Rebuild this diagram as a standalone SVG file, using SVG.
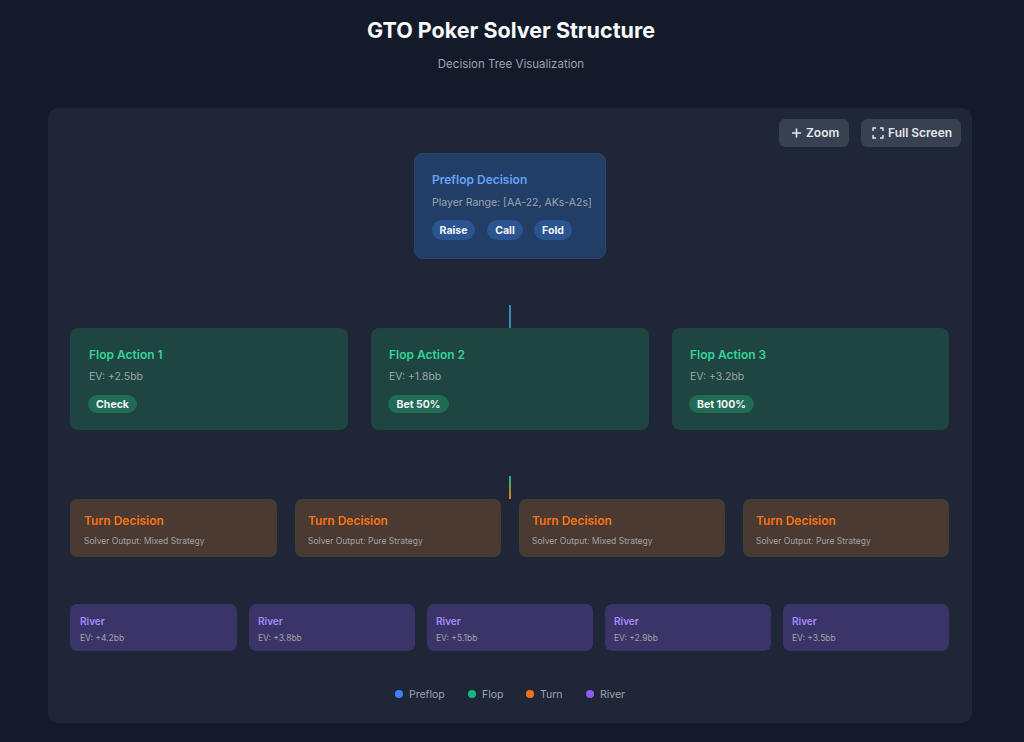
<svg xmlns="http://www.w3.org/2000/svg" width="1024" height="742" viewBox="0 0 1024 742">
<defs>
<linearGradient id="g2" x1="0" y1="0" x2="0" y2="1"><stop offset="0" stop-color="#10b981"/><stop offset="1" stop-color="#f97316"/></linearGradient>
<style>
text{font-family:Inter,"Liberation Sans",sans-serif}
.title{font-size:21.5px;font-weight:700;fill:#f9fafb}
.sub{font-size:11.5px;fill:#9ca3af}
.btn{fill:#374151}
.btnt{font-size:12px;font-weight:600;fill:#e5e7eb}
.pre{fill:#233e66;stroke:#2a4670;stroke-width:1}
.flop{fill:#1e4540}
.turn{fill:#4a3a31}
.river{fill:#3a3468}
.ht{font-size:12px;font-weight:600}
.hp{fill:#60a5fa}.hf{fill:#34d399}.ho{fill:#f97316}.hr{fill:#a78bfa}
.d{font-size:10.5px;fill:#9ca3af}
.ds{font-size:8.5px;fill:#a3a3a3}
.pb{fill:#2a5591}
.pg{fill:#1f6b56}
.pt{font-size:10.5px;font-weight:700;fill:#f3f4f6}
.lg{font-size:10.5px;fill:#9ca3af}
</style>
</defs>
<rect width="1024" height="742" fill="#131a29"/>
<text x="511" y="38" text-anchor="middle" class="title">GTO Poker Solver Structure</text>
<text x="511" y="68" text-anchor="middle" class="sub">Decision Tree Visualization</text>
<rect x="48" y="108" width="924" height="615" rx="10" fill="#1f2637"/>

<g id="btn-zoom"><rect x="779" y="119" width="70" height="28" rx="6" class="btn"/>
<path d="M792 133h9M796.5 128.5v9" stroke="#e5e7eb" stroke-width="1.6"/>
<text x="806" y="137" class="btnt">Zoom</text></g>
<g id="btn-full"><rect x="861" y="119" width="100" height="28" rx="6" class="btn"/>
<path d="M873 131v-3h3M880 128h3v3M883 135v3h-3M876 138h-3v-3" stroke="#e5e7eb" stroke-width="1.4" fill="none"/>
<text x="888" y="137" class="btnt">Full Screen</text></g>

<g id="connectors">
<line x1="510" y1="305" x2="510" y2="328" stroke="#3a8ab0" stroke-width="2"/>
<rect x="509" y="476" width="2" height="23" fill="url(#g2)"/>
</g>

<g id="preflop">
<rect x="414.5" y="153.5" width="191" height="105" rx="8" class="pre"/>
<text x="432" y="184" class="ht hp">Preflop Decision</text>
<text x="432" y="206" class="d">Player Range: [AA-22, AKs-A2s]</text>
<rect x="432" y="220" width="43" height="20" rx="10" class="pb"/><text x="453.5" y="234" text-anchor="middle" class="pt">Raise</text>
<rect x="487" y="220" width="36" height="20" rx="10" class="pb"/><text x="505" y="234" text-anchor="middle" class="pt">Call</text>
<rect x="534" y="220" width="38" height="20" rx="10" class="pb"/><text x="553" y="234" text-anchor="middle" class="pt">Fold</text>
</g>

<g id="flop1"><rect x="70" y="328" width="278" height="102" rx="8" class="flop"/>
<text x="89" y="359" class="ht hf">Flop Action 1</text><text x="89" y="380" class="d">EV: +2.5bb</text>
<rect x="88" y="395" width="49" height="18" rx="9" class="pg"/><text x="112.5" y="408" text-anchor="middle" class="pt">Check</text></g>
<g id="flop2"><rect x="371" y="328" width="278" height="102" rx="8" class="flop"/>
<text x="389" y="359" class="ht hf">Flop Action 2</text><text x="389" y="380" class="d">EV: +1.8bb</text>
<rect x="388" y="395" width="61" height="18" rx="9" class="pg"/><text x="418.5" y="408" text-anchor="middle" class="pt">Bet 50%</text></g>
<g id="flop3"><rect x="672" y="328" width="277" height="102" rx="8" class="flop"/>
<text x="690" y="359" class="ht hf">Flop Action 3</text><text x="690" y="380" class="d">EV: +3.2bb</text>
<rect x="689" y="395" width="65" height="18" rx="9" class="pg"/><text x="721.5" y="408" text-anchor="middle" class="pt">Bet 100%</text></g>

<g id="turn1"><rect x="70" y="499" width="207" height="58" rx="7" class="turn"/>
<text x="84" y="525" class="ht ho">Turn Decision</text><text x="84" y="544" class="ds">Solver Output: Mixed Strategy</text></g>
<g id="turn2"><rect x="295" y="499" width="206" height="58" rx="7" class="turn"/>
<text x="308" y="525" class="ht ho">Turn Decision</text><text x="308" y="544" class="ds">Solver Output: Pure Strategy</text></g>
<g id="turn3"><rect x="519" y="499" width="206" height="58" rx="7" class="turn"/>
<text x="532" y="525" class="ht ho">Turn Decision</text><text x="532" y="544" class="ds">Solver Output: Mixed Strategy</text></g>
<g id="turn4"><rect x="743" y="499" width="206" height="58" rx="7" class="turn"/>
<text x="756" y="525" class="ht ho">Turn Decision</text><text x="756" y="544" class="ds">Solver Output: Pure Strategy</text></g>

<g id="river1"><rect x="70" y="604" width="167" height="47" rx="7" class="river"/>
<text x="80" y="625" class="ht hr" style="font-size:10px">River</text><text x="80" y="641" class="ds">EV: +4.2bb</text></g>
<g id="river2"><rect x="249" y="604" width="166" height="47" rx="7" class="river"/>
<text x="258" y="625" class="ht hr" style="font-size:10px">River</text><text x="258" y="641" class="ds">EV: +3.8bb</text></g>
<g id="river3"><rect x="427" y="604" width="166" height="47" rx="7" class="river"/>
<text x="436" y="625" class="ht hr" style="font-size:10px">River</text><text x="436" y="641" class="ds">EV: +5.1bb</text></g>
<g id="river4"><rect x="605" y="604" width="166" height="47" rx="7" class="river"/>
<text x="614" y="625" class="ht hr" style="font-size:10px">River</text><text x="614" y="641" class="ds">EV: +2.9bb</text></g>
<g id="river5"><rect x="783" y="604" width="166" height="47" rx="7" class="river"/>
<text x="792" y="625" class="ht hr" style="font-size:10px">River</text><text x="792" y="641" class="ds">EV: +3.5bb</text></g>

<g id="legend">
<circle cx="399" cy="694" r="4" fill="#3b82f6"/><text x="409" y="698" class="lg">Preflop</text>
<circle cx="472" cy="694" r="4" fill="#10b981"/><text x="482" y="698" class="lg">Flop</text>
<circle cx="530" cy="694" r="4" fill="#f97316"/><text x="540" y="698" class="lg">Turn</text>
<circle cx="590" cy="694" r="4" fill="#8b5cf6"/><text x="600" y="698" class="lg">River</text>
</g>
</svg>
